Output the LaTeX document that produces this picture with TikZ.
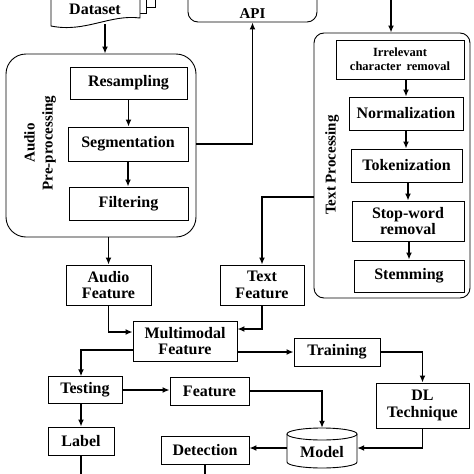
\documentclass[tikz,border=0pt]{standalone}
\usepackage{fontspec}
\setmainfont{Liberation Serif}
\usetikzlibrary{arrows.meta,calc}
\begin{document}
\begin{tikzpicture}[x=1pt,y=-1pt,
 box/.style={draw, line width=0.9pt, fill=white, font=\bfseries\fontsize{16}{16.5}\selectfont, align=center, inner sep=0pt},
 grp/.style={draw, line width=0.9pt, rounded corners=#1, inner sep=0pt},
 lab/.style={rotate=90, align=center, font=\bfseries\fontsize{15}{18}\selectfont},
 arr/.style={line width=1.7pt, -{Latex[length=7pt,width=6pt]}},
 ln/.style={line width=1.7pt},
]
\useasboundingbox (0,0) rectangle (474,474);
% Dataset (multi-document)
\draw[line width=0.9pt, fill=white] (62,-5) rectangle (155,7);
\draw[line width=0.9pt, fill=white] (56,-5) rectangle (146,13);
\draw[line width=0.9pt, fill=white] (51,-5) -- (51,26) .. controls (85,33) and (110,14) .. (140,18) -- (140,-5) -- cycle;
\node[font=\bfseries\fontsize{16}{16.5}\selectfont] (ds) at (95,9) {Dataset};
\coordinate (dsb) at (105,24);
% API box
\node[grp=10pt, minimum width=129, minimum height=44, label={[anchor=south, font=\bfseries\fontsize{15}{16}\selectfont]south:API}] (api) at (252.5,0) {};
% Audio pre-processing group
\node[grp=20pt, minimum width=190, minimum height=183] (audio) at (101,145.5) {};
\node[lab] (aplab) at (40,143) {Audio\\Pre-processing};
\node[box, minimum width=117, minimum height=32] (resamp) at (128.5,83) {Resampling};
\node[box, minimum width=120, minimum height=34] (seg) at (128,144) {Segmentation};
\node[box, minimum width=119, minimum height=33] (filt) at (128.5,203.5) {Filtering};
% Text processing group
\node[grp=10pt, minimum width=156, minimum height=265] (textbox) at (392,165.5) {};
\node[lab] (tplab) at (332,165) {Text Processing};
\node[box, minimum width=128, minimum height=39, font=\bfseries\fontsize{12.5}{14}\selectfont] (irr) at (400,59.5) {Irrelevant\\character\, removal};
\node[box, minimum width=114, minimum height=33] (norm) at (406,113.5) {Normalization};
\node[box, minimum width=111, minimum height=33] (tok) at (406.5,165.5) {Tokenization};
\node[box, minimum width=112, minimum height=40] (stop) at (408,221) {Stop-word\\removal};
\node[box, minimum width=110, minimum height=32] (stem) at (409,276) {Stemming};
% Lower part
\node[box, minimum width=85, minimum height=40] (afeat) at (108.5,285) {Audio\\Feature};
\node[box, minimum width=84, minimum height=40] (tfeat) at (262,285) {Text\\Feature};
\node[box, minimum width=104, minimum height=40] (mm) at (185,341) {Multimodal\\Feature};
\node[box, minimum width=86, minimum height=28] (train) at (337,352) {Training};
\node[box, minimum width=93, minimum height=45] (dl) at (422.5,405.5) {DL\\Technique};
\node[box, minimum width=74, minimum height=26.5] (test) at (85,390) {Testing};
\node[box, minimum width=79, minimum height=28] (feat) at (209.5,391) {Feature};
\node[box, minimum width=66, minimum height=28] (label) at (81,441) {Label};
\node[box, minimum width=88, minimum height=28] (det) at (205,450) {Detection};
% Model cylinder
\draw[line width=0.9pt, fill=white] (287,434) -- (287,462) arc[start angle=180, end angle=360, x radius=35pt, y radius=6pt] -- (357,434);
\draw[line width=0.9pt, fill=white] (322,434) ellipse [x radius=35pt, y radius=6pt];
\node[inner sep=0pt, minimum width=70, minimum height=40, label={[yshift=-4pt, font=\bfseries\fontsize{16}{16.5}\selectfont]center:Model}] (model) at (322,448) {};
\coordinate (tin) at (391,0);
\coordinate (bot) at (0,476);
% Connectors
\draw[arr] (dsb) -- (dsb |- audio.north);
\draw[arr] (resamp.south) -- (resamp.south |- seg.north);
\draw[arr] (seg.south) -- (seg.south |- filt.north);
\draw[arr] (audio.east |- seg.east) -| (api.south);
\draw[arr] (tin) -- (tin |- textbox.north);
\draw[arr] (norm.north |- irr.south) -- (norm.north);
\draw[arr] (norm.south) -- (norm.south |- tok.north);
\draw[arr] (stop.north |- tok.south) -- (stop.north);
\draw[arr] (stem.north |- stop.south) -- (stem.north);
\draw[arr] (afeat.north |- audio.south) -- (afeat.north);
\draw[arr] ($(textbox.west)+(0,31.5)$) -| (tfeat.north);
\draw[arr] (afeat.south) |- ($(mm.west)+(0,-9)$);
\draw[arr] (tfeat.south) |- ($(mm.east)+(0,-12)$);
\draw[arr] (mm.east |- train.west) -- (train.west);
\draw[arr] ($(mm.west)+(0,9)$) -| (label.north |- test.north);
\draw[arr] (label.north |- test.south) -- (label.north);
\draw[arr] (test.east) -- (test.east -| feat.west);
\draw[arr] (train.east) -| (dl.north);
\draw[arr] (feat.east) -| (model.north);
\draw[arr] (dl.south) |- (model.east);
\draw[arr] (model.west) -- (model.west -| det.east);
\draw[ln] (label.south) -- (label.south |- bot);
\draw[ln] (det.south) -- (det.south |- bot);
\end{tikzpicture}
\end{document}
